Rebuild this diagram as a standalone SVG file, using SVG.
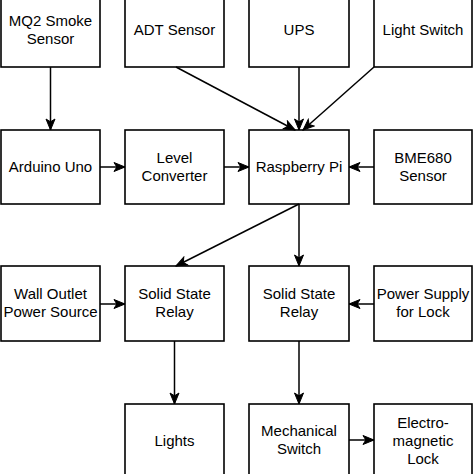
<svg xmlns="http://www.w3.org/2000/svg" width="474" height="474" viewBox="0 0 474 474">
<style>
.box{fill:#fff;stroke:#000;stroke-width:1.6}
.t{font-family:"Liberation Sans",Arial,sans-serif;font-size:15px;fill:#000;text-anchor:middle}
.c{fill:none;stroke:#000;stroke-width:1.5}
</style>
<defs>
<marker id="arr" markerUnits="userSpaceOnUse" markerWidth="13" markerHeight="11" refX="12" refY="5.5" orient="auto">
<path d="M1,1 L12,5.5 L1,10 L3.8,5.5 Z" fill="#000" stroke="#000" stroke-width="1"/>
</marker>
</defs>
<rect width="474" height="474" fill="#fff"/>
<g id="mq2"><rect class="box" x="1" y="-7" width="99" height="74"/><text class="t" x="50.5" y="26">MQ2 Smoke</text><text class="t" x="50.5" y="44">Sensor</text></g>
<g id="adt"><rect class="box" x="125" y="-7" width="99" height="74"/><text class="t" x="174.5" y="35">ADT Sensor</text></g>
<g id="ups"><rect class="box" x="249" y="-7" width="100" height="74"/><text class="t" x="299" y="35">UPS</text></g>
<g id="lightswitch"><rect class="box" x="374" y="-7" width="98" height="74"/><text class="t" x="423" y="35">Light Switch</text></g>
<g id="arduino"><rect class="box" x="1" y="130" width="99" height="74"/><text class="t" x="50.5" y="172">Arduino Uno</text></g>
<g id="level"><rect class="box" x="125" y="130" width="99" height="74"/><text class="t" x="174.5" y="163">Level</text><text class="t" x="174.5" y="181">Converter</text></g>
<g id="rpi"><rect class="box" x="249" y="130" width="100" height="74"/><text class="t" x="299" y="172">Raspberry Pi</text></g>
<g id="bme"><rect class="box" x="374" y="130" width="98" height="74"/><text class="t" x="423" y="163">BME680</text><text class="t" x="423" y="181">Sensor</text></g>
<g id="wall"><rect class="box" x="1" y="266" width="99" height="75"/><text class="t" x="50.5" y="299">Wall Outlet</text><text class="t" x="50.5" y="317">Power Source</text></g>
<g id="ssr1"><rect class="box" x="125" y="266" width="99" height="75"/><text class="t" x="174.5" y="299">Solid State</text><text class="t" x="174.5" y="317">Relay</text></g>
<g id="ssr2"><rect class="box" x="249" y="266" width="100" height="75"/><text class="t" x="299" y="299">Solid State</text><text class="t" x="299" y="317">Relay</text></g>
<g id="psu"><rect class="box" x="374" y="266" width="98" height="75"/><text class="t" x="423" y="299">Power Supply</text><text class="t" x="423" y="317">for Lock</text></g>
<g id="lights"><rect class="box" x="125" y="404" width="99" height="76"/><text class="t" x="174.5" y="446">Lights</text></g>
<g id="mech"><rect class="box" x="249" y="404" width="100" height="76"/><text class="t" x="299" y="436">Mechanical</text><text class="t" x="299" y="454">Switch</text></g>
<g id="lock"><rect class="box" x="374" y="404" width="98" height="76"/><text class="t" x="423" y="428">Electro-</text><text class="t" x="423" y="446">magnetic</text><text class="t" x="423" y="464">Lock</text></g>
<g id="connectors">
<line class="c" x1="50.5" y1="67" x2="50.5" y2="130" marker-end="url(#arr)"/>
<line class="c" x1="100" y1="167" x2="125" y2="167" marker-end="url(#arr)"/>
<line class="c" x1="224" y1="167" x2="249" y2="167" marker-end="url(#arr)"/>
<line class="c" x1="374" y1="167" x2="349" y2="167" marker-end="url(#arr)"/>
<line class="c" x1="176" y1="67" x2="295" y2="130" marker-end="url(#arr)"/>
<line class="c" x1="299" y1="67" x2="299" y2="130" marker-end="url(#arr)"/>
<line class="c" x1="374" y1="67" x2="303" y2="130" marker-end="url(#arr)"/>
<line class="c" x1="299" y1="204" x2="299" y2="266" marker-end="url(#arr)"/>
<line class="c" x1="299" y1="204" x2="176" y2="266" marker-end="url(#arr)"/>
<line class="c" x1="100" y1="304" x2="125" y2="304" marker-end="url(#arr)"/>
<line class="c" x1="374" y1="304" x2="349" y2="304" marker-end="url(#arr)"/>
<line class="c" x1="174.5" y1="341" x2="174.5" y2="404" marker-end="url(#arr)"/>
<line class="c" x1="299" y1="341" x2="299" y2="404" marker-end="url(#arr)"/>
<line class="c" x1="349" y1="440" x2="374" y2="440" marker-end="url(#arr)"/>
</g>
</svg>
